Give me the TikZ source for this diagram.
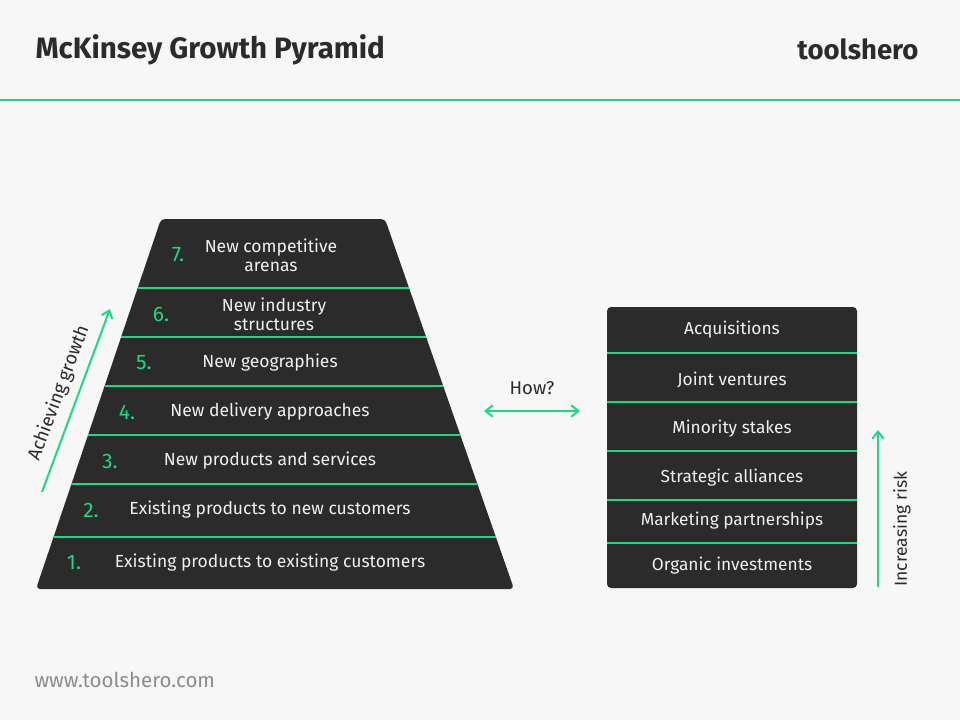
\documentclass[tikz,border=0pt]{standalone}
\usepackage{fontspec}
\setmainfont{Fira Sans}
\usepackage{tikz}
\usetikzlibrary{calc}
\usetikzlibrary{arrows.meta}
\definecolor{thgreen}{RGB}{28,218,130}
\definecolor{thdark}{RGB}{43,43,43}
\definecolor{thbg}{RGB}{247,247,247}
\definecolor{thgrey}{RGB}{140,140,140}
\definecolor{thwhite}{RGB}{240,240,240}
\tikzset{
  sep/.style={thgreen, line width=2pt},
  lvl/.style={text=thwhite, font=\fontsize{17.5}{19}\selectfont, align=center},
  num/.style={text=thgreen, font=\fontsize{21}{23}\selectfont},
  opt/.style={text=thwhite, font=\fontsize{17.3}{19}\selectfont},
  garrow/.style={thgreen, line width=2pt, -{Straight Barb[length=2.5mm,width=4mm]}},
}
\begin{document}
\begin{tikzpicture}[x=1pt,y=-1pt]
    \fill[thbg] (0,0) rectangle (960,720);
    \useasboundingbox (0,0) rectangle (960,720);
    % header
    \node[anchor=west, text=thdark, font=\fontsize{29.5}{32}\bfseries] (title) at (32,50) {McKinsey Growth Pyramid};
    \node[anchor=east, text=thdark, font=\fontsize{27.5}{30}\bfseries] (brand) at (922,49) {toolshero};
    \draw[thgreen, line width=2pt] (0,100) -- (960,100);
    % pyramid
    \coordinate (ptl) at (161,219);
    \coordinate (ptr) at (385,219);
    \coordinate (pbr) at (514,589);
    \coordinate (pbl) at (36,589);
    \fill[thdark, rounded corners=4pt] (ptl) -- (ptr) -- (pbr) -- (pbl) -- cycle;
    \foreach \yy in {288,337,386,435,484,537}
      \draw[sep] ($(ptl)!{(\yy-219)/370}!(pbl)$) -- ($(ptr)!{(\yy-219)/370}!(pbr)$);
    \node[num] (n7) at (178,255) {7.};
    \node[num] (n6) at (161,314) {6.};
    \node[num] (n5) at (144,363) {5.};
    \node[num] (n4) at (127,412) {4.};
    \node[num] (n3) at (110,461) {3.};
    \node[num] (n2) at (91,510) {2.};
    \node[num] (n1) at (74,563) {1.};
    \node[lvl] (l7) at (271,255) {New competitive\\arenas};
    \node[lvl] (l6) at (274,314) {New industry\\structures};
    \node[lvl] (l5) at (270,363) {New geographies};
    \node[lvl] (l4) at (270,412) {New delivery approaches};
    \node[lvl] (l3) at (270,461) {New products and services};
    \node[lvl] (l2) at (270,510) {Existing products to new customers};
    \node[lvl] (l1) at (270,563) {Existing products to existing customers};
    % growth arrow
    \coordinate (gs) at (42,492);
    \coordinate (ge) at (110,309);
    \draw[garrow] (gs) -- (ge);
    \node[rotate=69.5, text=thdark, font=\fontsize{18.5}{20}\selectfont] (grow) at (59,393) {Achieving growth};
    % how
    \coordinate (hl) at (484,411);
    \coordinate (hr) at (580,411);
    \draw[garrow, {Straight Barb[length=2.5mm,width=4mm]}-{Straight Barb[length=2.5mm,width=4mm]}] (hl) -- (hr);
    \node[text=thdark, font=\fontsize{18.5}{20}\selectfont] (how) at (532,388) {How?};
    % options box
    \fill[thdark, rounded corners=4pt] (607,307) rectangle (857,588);
    \foreach \yy in {353,402,451,500,543}
      \draw[sep] (607,\yy) -- (857,\yy);
    \node[opt] (o6) at (732,330) {Acquisitions};
    \node[opt] (o5) at (732,380) {Joint ventures};
    \node[opt] (o4) at (732,429) {Minority stakes};
    \node[opt] (o3) at (732,478) {Strategic alliances};
    \node[opt] (o2) at (732,521) {Marketing partnerships};
    \node[opt] (o1) at (732,566) {Organic investments};
    % risk arrow
    \coordinate (rs) at (878,587);
    \coordinate (re) at (878,430);
    \draw[garrow] (rs) -- (re);
    \node[rotate=90, anchor=west, text=thdark, font=\fontsize{17.5}{19}\selectfont] (risk) at (902,590) {Increasing risk};
    % footer
    \node[anchor=west, text=thgrey, font=\fontsize{20.5}{22}\selectfont] (web) at (31,680) {www.toolshero.com};
\end{tikzpicture}
\end{document}
